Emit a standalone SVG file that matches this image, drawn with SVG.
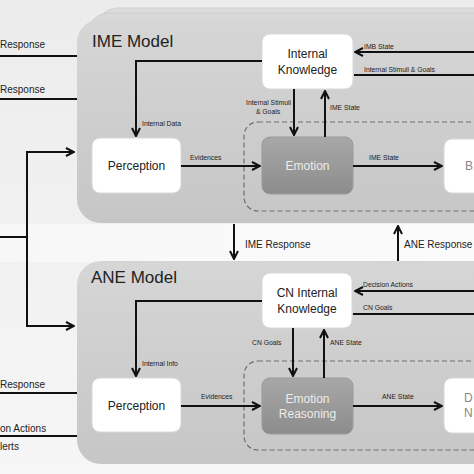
<svg xmlns="http://www.w3.org/2000/svg" width="474" height="474" viewBox="0 0 474 474">
<style>
.conn{fill:none;stroke:#111;stroke-width:2}
.arr{marker-end:url(#ah)}
.node{fill:#fff;stroke:#d8d8d8;stroke-width:1}
.emo{fill:url(#gEmo);stroke:#9a9a9a;stroke-width:1}
.dash{fill:none;stroke:#6e6e6e;stroke-width:1.2;stroke-dasharray:5 3}
.t{font-family:"Liberation Sans",Arial,sans-serif;fill:#222}
.nt{font-size:12px;text-anchor:middle}
.et{font-size:12px;text-anchor:middle;fill:#ececec}
.lbl{font-size:6.8px}
.side{font-size:10px}
.title{font-size:17px}
</style>
<defs>
<marker id="ah" viewBox="0 0 10 10" refX="9" refY="5" markerWidth="5" markerHeight="5" markerUnits="strokeWidth" orient="auto">
<path d="M1,1 L9,5 L1,9" fill="none" stroke="#111" stroke-width="2"/>
</marker>
<linearGradient id="gBg" x1="0" y1="0" x2="0" y2="1"><stop offset="0" stop-color="#ececec"/><stop offset="1" stop-color="#f6f6f6"/></linearGradient>
<linearGradient id="gBox" x1="0" y1="0" x2="0" y2="1"><stop offset="0" stop-color="#d6d6d6"/><stop offset="1" stop-color="#c6c6c6"/></linearGradient>
<linearGradient id="gBand" x1="0" y1="0" x2="1" y2="0"><stop offset="0" stop-color="#f7f7f7"/><stop offset="1" stop-color="#fbfbfb"/></linearGradient>
<linearGradient id="gEmo" x1="0" y1="0" x2="0" y2="1"><stop offset="0" stop-color="#a8a8a8"/><stop offset="1" stop-color="#8c8c8c"/></linearGradient>
</defs>
<rect x="0" y="0" width="474" height="474" fill="url(#gBg)"/>
<rect x="0" y="224" width="474" height="38" fill="url(#gBand)"/>

<g id="ime-model">
<rect x="96" y="8" width="400" height="200" rx="22" fill="#dcdcdc" stroke="#cfcfcf"/>
<rect x="87" y="13" width="410" height="200" rx="22" fill="#d9d9d9" stroke="#cdcdcd"/>
<rect x="77" y="19" width="420" height="204" rx="24" fill="url(#gBox)"/>
<text class="t title" x="92" y="47">IME Model</text>
<rect class="dash" x="244" y="122" width="260" height="89" rx="14"/>
</g>
<g id="ane-model">
<rect x="77" y="261" width="420" height="203" rx="24" fill="url(#gBox)"/>
<text class="t title" x="91" y="283">ANE Model</text>
<rect class="dash" x="244" y="361" width="260" height="89" rx="14"/>
</g>

<g id="ime-internal-knowledge"><rect class="node" x="262" y="34" width="91" height="55" rx="8"/><text class="t nt" x="307.5" y="58">Internal</text><text class="t nt" x="307.5" y="74">Knowledge</text></g>
<g id="ime-perception"><rect class="node" x="92" y="138" width="89" height="55" rx="8"/><text class="t nt" x="136.5" y="170">Perception</text></g>
<g id="ime-emotion"><rect class="emo" x="262" y="137" width="91" height="57" rx="8"/><text class="t et" x="307.5" y="170">Emotion</text></g>
<g id="ime-behavior"><rect class="node" x="444" y="139" width="60" height="54" rx="8"/><text class="t nt" x="465" y="170" style="text-anchor:start;fill:#888">B</text></g>

<g id="ane-cn-internal-knowledge"><rect class="node" x="262" y="273" width="90" height="55" rx="8"/><text class="t nt" x="307" y="297">CN Internal</text><text class="t nt" x="307" y="313">Knowledge</text></g>
<g id="ane-perception"><rect class="node" x="92" y="378" width="89" height="54" rx="8"/><text class="t nt" x="136.5" y="410">Perception</text></g>
<g id="ane-emotion-reasoning"><rect class="emo" x="262" y="378" width="91" height="56" rx="8"/><text class="t et" x="307.5" y="403">Emotion</text><text class="t et" x="307.5" y="418">Reasoning</text></g>
<g id="ane-right"><rect class="node" x="444" y="378" width="60" height="55" rx="8"/><text class="t nt" x="464" y="402" style="text-anchor:start;fill:#888">D</text><text class="t nt" x="464" y="417" style="text-anchor:start;fill:#888">N</text></g>

<g id="connectors">
<path class="conn" d="M0,56 H77"/>
<path class="conn" d="M0,99 H77"/>
<path class="conn" d="M0,393 H77"/>
<path class="conn" d="M0,436 H77"/>
<path class="conn" d="M0,237 H27"/>
<path class="conn arr" d="M27,326 V152 H74"/>
<path class="conn arr" d="M27,237 V326 H74"/>
<path class="conn arr" d="M262,61 H136 V136"/>
<path class="conn arr" d="M181,166 H260"/>
<path class="conn arr" d="M294,89 V135"/>
<path class="conn arr" d="M325,137 V91"/>
<path class="conn arr" d="M353,166 H442"/>
<path class="conn arr" d="M474,52 H355"/>
<path class="conn" d="M354,75 H474"/>
<path class="conn arr" d="M234,224 V259"/>
<path class="conn arr" d="M398,261 V226"/>
<path class="conn arr" d="M262,301 H136 V376"/>
<path class="conn arr" d="M181,406 H260"/>
<path class="conn arr" d="M293,328 V376"/>
<path class="conn arr" d="M324,378 V330"/>
<path class="conn arr" d="M353,406 H442"/>
<path class="conn arr" d="M474,291 H355"/>
<path class="conn" d="M353,314 H474"/>
</g>

<g id="labels">
<text class="t side" x="0" y="48">Response</text>
<text class="t side" x="0" y="93">Response</text>
<text class="t side" x="0" y="388">Response</text>
<text class="t side" x="0" y="432">on Actions</text>
<text class="t side" x="0" y="450">lerts</text>
<text class="t lbl" x="142" y="126">Internal Data</text>
<text class="t lbl" x="190" y="160">Evidences</text>
<text class="t lbl" x="291" y="105" text-anchor="end">Internal Stimuli</text>
<text class="t lbl" x="268" y="114" text-anchor="middle">&amp; Goals</text>
<text class="t lbl" x="330" y="110">IME State</text>
<text class="t lbl" x="369" y="160">IME State</text>
<text class="t lbl" x="364" y="49">IMB State</text>
<text class="t lbl" x="364" y="72">Internal Stimuli &amp; Goals</text>
<text class="t side" x="245" y="248">IME Response</text>
<text class="t side" x="404" y="248">ANE Response</text>
<text class="t lbl" x="142" y="366">Internal Info</text>
<text class="t lbl" x="201" y="399">Evidences</text>
<text class="t lbl" x="252" y="345">CN Goals</text>
<text class="t lbl" x="330" y="345">ANE State</text>
<text class="t lbl" x="382" y="399">ANE State</text>
<text class="t lbl" x="363" y="287">Decision Actions</text>
<text class="t lbl" x="363" y="310">CN Goals</text>
</g>
</svg>
